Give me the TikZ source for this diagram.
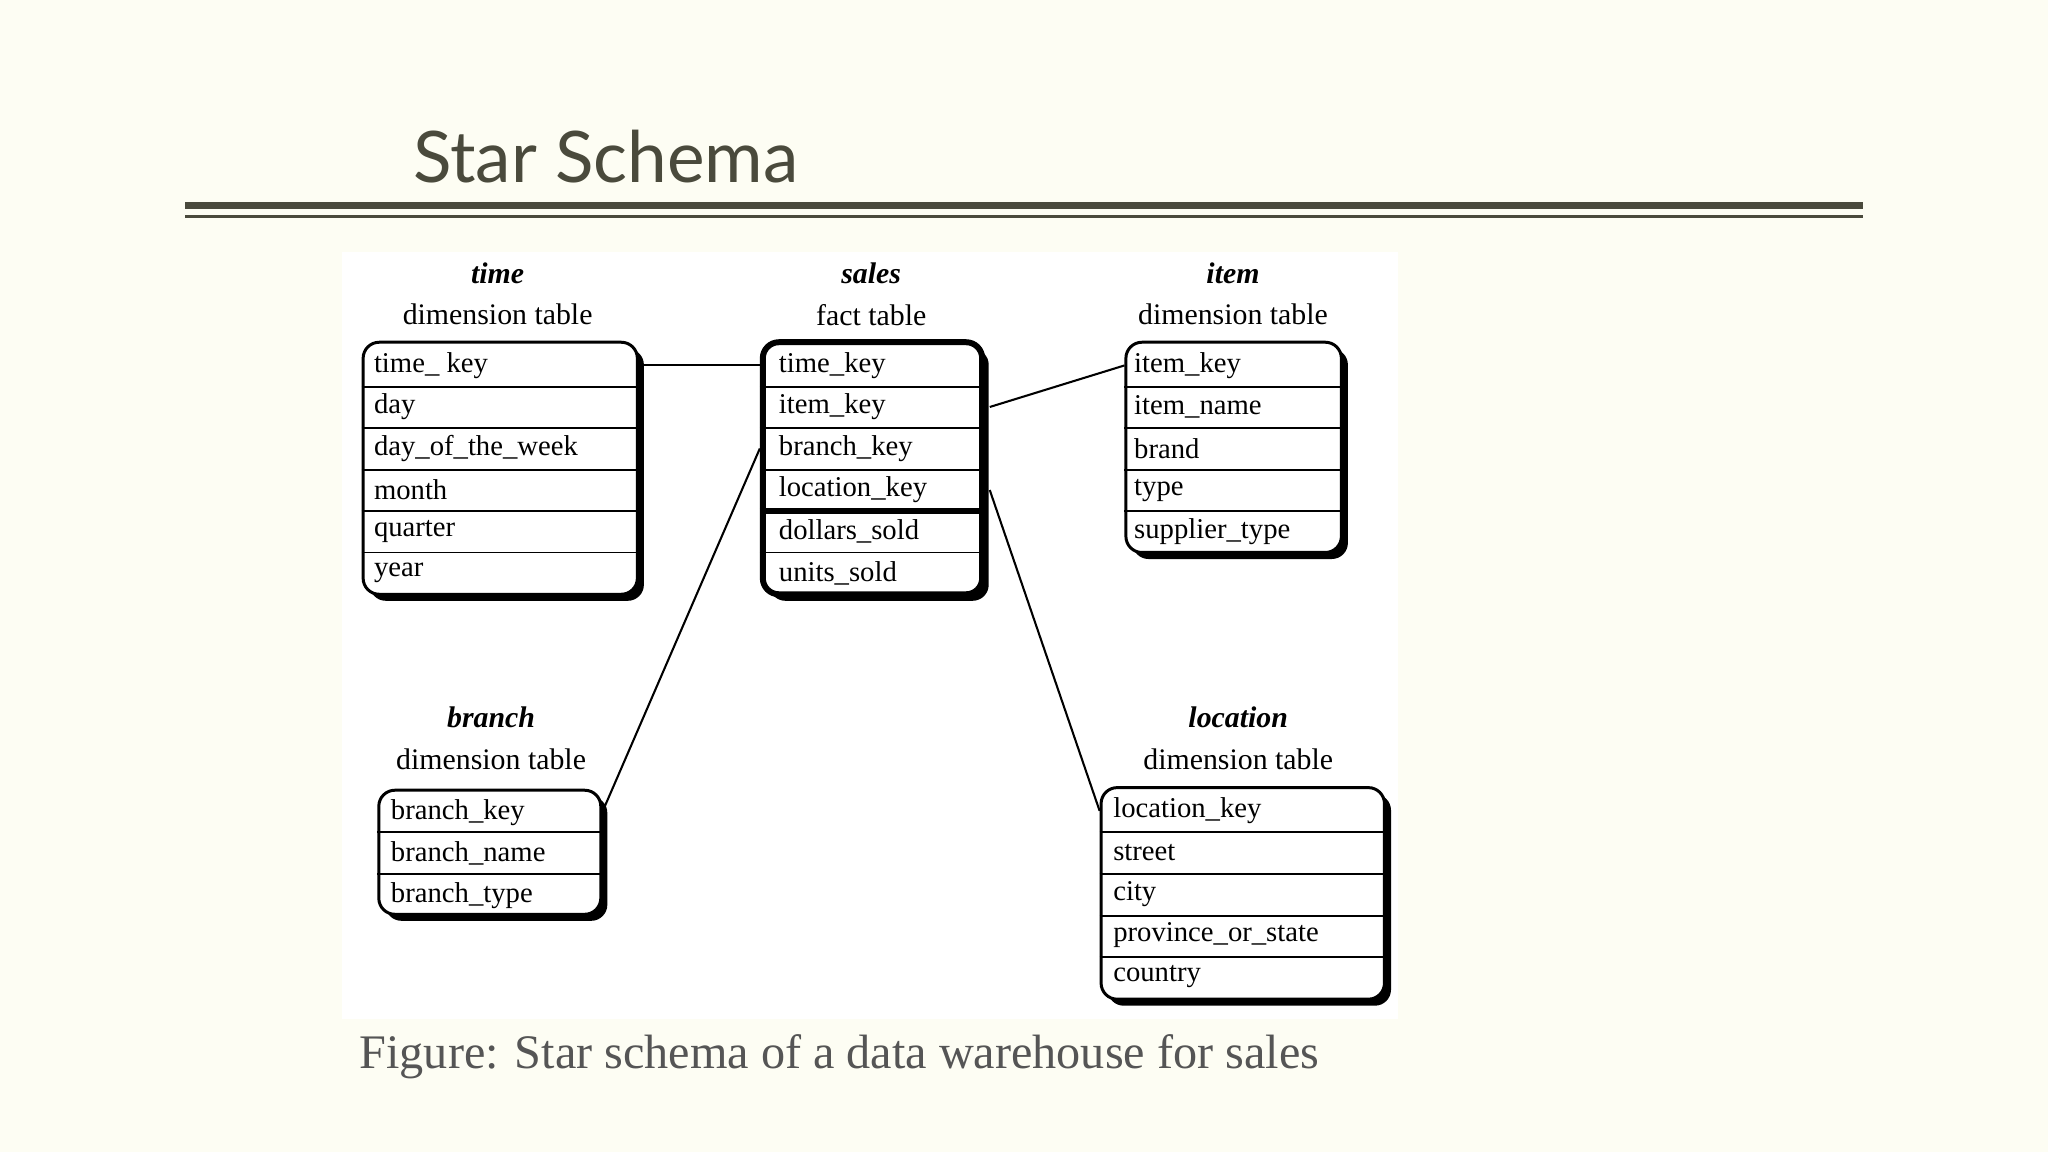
\documentclass[tikz,border=0pt]{standalone}
\usepackage{fontspec}
\setmainfont{Liberation Serif}
\newfontfamily\titlefont{Lato}
\usetikzlibrary{shadows}
\definecolor{bgc}{HTML}{FDFDF3}
\definecolor{titc}{HTML}{4A4A3C}
\definecolor{capc}{HTML}{555555}
\tikzset{
 tbl/.style={draw, fill=white, rounded corners=7pt, line width=1.3pt, inner sep=0pt,
   drop shadow={shadow xshift=0.1cm, shadow yshift=-0.1cm, fill=black, opacity=1}},
 rowtxt/.style={anchor=west, inner sep=0pt, font=\fontsize{12.5}{14}\selectfont},
 hdr/.style={font=\fontsize{13}{15}\selectfont\bfseries\itshape},
 sub/.style={font=\fontsize{13}{15}\selectfont},
 conn/.style={line width=0.9pt}
}
\begin{document}
\begin{tikzpicture}[x=0.02cm,y=-0.02cm]
\fill[bgc] (0,0) rectangle (1568,882);
\fill[white] (262,193) rectangle (1070,780);
\node[anchor=base west, inner sep=0pt, text=titc, font=\titlefont\fontsize{31}{34}\selectfont] (title) at (316,140) {Star Schema};
\draw[titc, line width=3pt] (142,157) -- (1426,157);
\draw[titc, line width=1.2pt] (142,166) -- (1426,166);
% headers
\node[hdr] (th) at (381,209) {time};
\node[sub] (ts) at (381,241) {dimension table};
\node[hdr] (sh) at (667,209) {sales};
\node[sub] (ss) at (667,241) {fact table};
\node[hdr] (ih) at (944,209) {item};
\node[sub] (is) at (944,241) {dimension table};
\node[hdr] (bh) at (376,549) {branch};
\node[sub] (bs) at (376,581) {dimension table};
\node[hdr] (lh) at (948,549) {location};
\node[sub] (ls) at (948,581) {dimension table};
% tables
\node[tbl, minimum width=4.2cm, minimum height=3.86cm] (time) at (383,358.5) {};
\node[tbl, line width=2.6pt, minimum width=3.36cm, minimum height=3.86cm] (sales) at (668,358.5) {};
\node[tbl, minimum width=3.3cm, minimum height=3.22cm] (item) at (944.5,342.5) {};
\node[tbl, minimum width=3.4cm, minimum height=1.9cm] (branch) at (375,652.5) {};
\node[tbl, minimum width=4.34cm, minimum height=3.24cm] (loc) at (951.5,684) {};
% row lines
\foreach \y in {296,328,360,391,423} \draw[line width=0.8pt] (time.west |- 0,\y) -- (time.east |- 0,\y);
\foreach \y in {296,328,360,423} \draw[line width=0.8pt] (sales.west |- 0,\y) -- (sales.east |- 0,\y);
\draw[line width=2.6pt] (sales.west |- 0,391) -- (sales.east |- 0,391);
\foreach \y in {296,328,360,391} \draw[line width=0.8pt] (item.west |- 0,\y) -- (item.east |- 0,\y);
\foreach \y in {637,669} \draw[line width=0.8pt] (branch.west |- 0,\y) -- (branch.east |- 0,\y);
\foreach \y in {637,669,701,733} \draw[line width=0.8pt] (loc.west |- 0,\y) -- (loc.east |- 0,\y);
% rows text
\foreach \t [count=\i] in {time\_ key,day,day\_of\_the\_week,month,quarter,year}
  \node[rowtxt] (t\i) at (286,{248+31.8*\i}) {\t};
\foreach \t [count=\i] in {time\_key,item\_key,branch\_key,location\_key,dollars\_sold,units\_sold}
  \node[rowtxt] (s\i) at (596,{248+31.8*\i}) {\t};
\foreach \t [count=\i] in {item\_key,item\_name,brand,type,supplier\_type}
  \node[rowtxt] (i\i) at (868,{248+31.8*\i}) {\t};
\foreach \t [count=\i] in {branch\_key,branch\_name,branch\_type}
  \node[rowtxt] (b\i) at (299,{590+31.8*\i}) {\t};
\foreach \t [count=\i] in {location\_key,street,city,province\_or\_state,country}
  \node[rowtxt] (l\i) at (852,{589+31.8*\i}) {\t};
% connectors
\draw[conn] (time.east |- t1) -- (sales.west |- s1);
\draw[conn] ([xshift=2pt]sales.east |- s2) -- (item.west |- i1);
\draw[conn] (sales.west |- s3) -- (branch.east |- b1);
\draw[conn] ([xshift=2pt]sales.east |- s4) -- (loc.west |- l1);
% caption
\node[anchor=base west, inner sep=0pt, text=capc, font=\fontsize{21}{24}\selectfont] (cap) at (275,818) {Figure: Star schema of a data warehouse for sales};
\end{tikzpicture}
\end{document}
